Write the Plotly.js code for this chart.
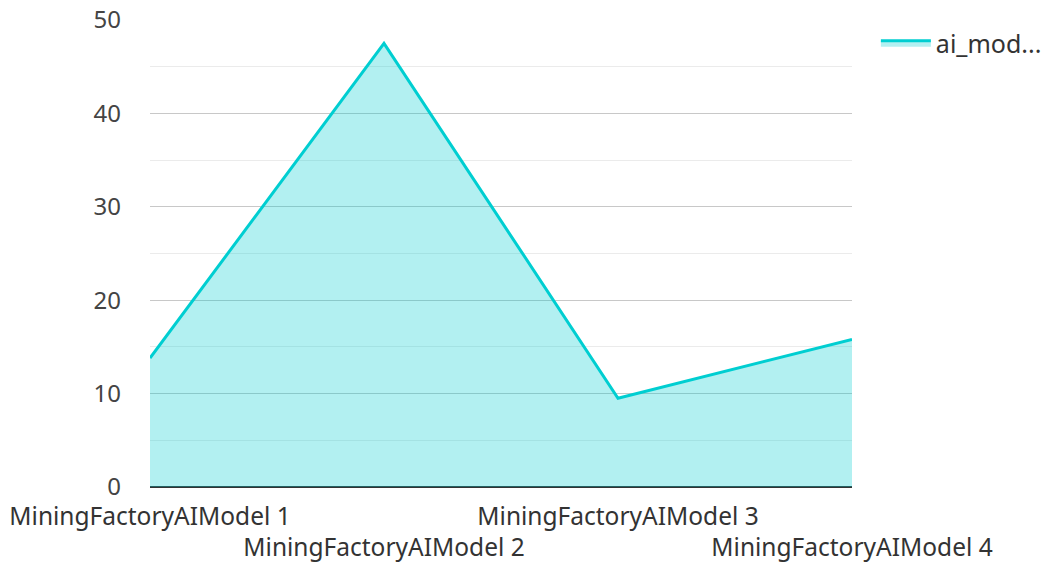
<!DOCTYPE html>
<html>
<head>
<meta charset="utf-8">
<script src="https://cdn.plot.ly/plotly-3.0.1.min.js"></script>
<style>html,body{margin:0;padding:0;background:#fff;}#chart{width:1042px;height:562px;}</style>
</head>
<body>
<div id="chart"></div>
<script>
const categories = ["MiningFactoryAIModel 1", "MiningFactoryAIModel 2", "MiningFactoryAIModel 3", "MiningFactoryAIModel 4"];
const values = [13.8, 47.5, 9.5, 15.8];
const seriesName = "ai_mod...";
const tickLabels = categories.map((c, i) => (i % 2 === 1 ? "<br>" + c : c));

const trace = {
  x: categories.map((c, i) => i),
  y: values,
  type: "scatter",
  mode: "lines",
  name: seriesName,
  fill: "tozeroy",
  fillcolor: "rgba(0,206,209,0.3)",
  line: {color: "#00CED1", width: 3}
};

const layout = {
  width: 1042, height: 562,
  margin: {l: 150, r: 190, t: 20, b: 75, autoexpand: false},
  paper_bgcolor: "#fff", plot_bgcolor: "#fff",
  font: {family: "Noto Sans, sans-serif", size: 24, color: "#444"},
  showlegend: true,
  legend: {x: 1.034, y: 1, xanchor: "left", yanchor: "top", itemwidth: 50, font: {size: 25, color: "#333"}},
  xaxis: {
    range: [0, 3], tickvals: [0, 1, 2, 3], ticktext: tickLabels,
    showgrid: false, zeroline: false, showline: false, ticks: "",
    tickangle: 0, ticklabelstandoff: 12, tickfont: {size: 24.5, color: "#333"}, fixedrange: true
  },
  yaxis: {
    range: [0, 50], dtick: 10, showgrid: true, gridcolor: "#c8c8c8", gridwidth: 1,
    minor: {dtick: 5, showgrid: true, gridcolor: "#ebebeb", gridwidth: 1},
    zeroline: true, zerolinecolor: "#333", zerolinewidth: 2,
    ticks: "", ticklabelstandoff: 28, tickfont: {size: 24, color: "#444"}, fixedrange: true
  }
};

Plotly.newPlot("chart", [trace], layout, {displayModeBar: false, staticPlot: true});
</script>
</body>
</html>
